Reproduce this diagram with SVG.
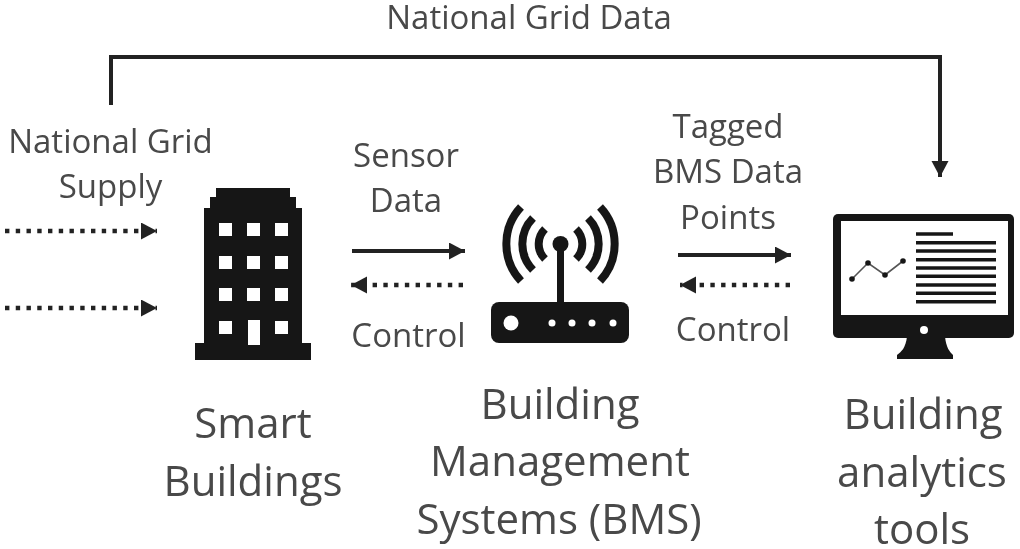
<svg xmlns="http://www.w3.org/2000/svg" width="1020" height="549" viewBox="0 0 1020 549">
<style>
text{font-family:"Open Sans","Noto Sans","Liberation Sans",sans-serif;fill:#484848;text-anchor:middle}
.s{font-size:33px}.b{font-size:42px}
.k{fill:#191919}.w{fill:#fff}
.c{fill:none;stroke:#222;stroke-width:4}
.d{fill:none;stroke:#222;stroke-width:4.400;stroke-dasharray:4.400 6.350}
.a{fill:none;stroke:#191919;stroke-width:8}
.t{stroke:#191919;stroke-width:3.500}
g{filter:url(#soft)}
g g{filter:none}
</style>
<defs>
<filter id="soft" x="-5%" y="-5%" width="110%" height="110%"><feGaussianBlur stdDeviation="0.55"/></filter>
<marker id="h" markerUnits="userSpaceOnUse" markerWidth="18" markerHeight="18" refX="16" refY="8.500" orient="auto"><path d="M0 0L16 8.500L0 17Z" fill="#222"/></marker>
</defs>
<rect width="1020" height="549" fill="#fff"/>
<g id="connectors">
<path class="c" d="M111 105V57H940V177" marker-end="url(#h)"/>
<path class="d" d="M5 231H157" marker-end="url(#h)"/>
<path class="d" d="M5 308H157" marker-end="url(#h)"/>
<path class="c" d="M352 251H465" marker-end="url(#h)"/>
<path class="d" d="M463 285H351" marker-end="url(#h)"/>
<path class="c" d="M678 255H791" marker-end="url(#h)"/>
<path class="d" d="M790 285H680" marker-end="url(#h)"/>
</g>
<g id="labels">
<text class="s" x="529" y="29">National Grid Data</text>
<text class="s" x="110.500" y="153">National Grid</text>
<text class="s" x="110.500" y="198">Supply</text>
<text class="s" x="406" y="167">Sensor</text>
<text class="s" x="406" y="212">Data</text>
<text class="s" x="408.500" y="347">Control</text>
<text class="s" x="728" y="138">Tagged</text>
<text class="s" x="728" y="183">BMS Data</text>
<text class="s" x="728" y="229">Points</text>
<text class="s" x="733" y="341">Control</text>
</g>
<g id="smart-buildings">
<path class="k" d="M216 188H290V197H296V208H302V343H311V360H195V343H204V208H210V197H216Z"/>
<g class="w">
<rect x="219" y="223" width="13" height="13"/><rect x="247" y="223" width="13" height="13"/><rect x="275" y="223" width="13" height="13"/>
<rect x="219" y="256" width="13" height="13"/><rect x="247" y="256" width="13" height="13"/><rect x="275" y="256" width="13" height="13"/>
<rect x="219" y="288" width="13" height="13"/><rect x="247" y="288" width="13" height="13"/><rect x="275" y="288" width="13" height="13"/>
<rect x="219" y="321" width="13" height="13"/><rect x="248" y="320" width="12" height="25"/><rect x="275" y="321" width="13" height="13"/>
</g>
<text class="b" x="253" y="438">Smart</text>
<text class="b" x="253" y="496">Buildings</text>
</g>
<g id="bms">
<rect class="k" x="491" y="302" width="138" height="41" rx="8"/>
<rect class="k" x="557" y="245" width="7" height="60"/>
<circle class="k" cx="560.500" cy="244" r="8"/>
<path class="a" d="M545 229A21 21 0 0 0 545 259M576 229A21 21 0 0 1 576 259M533 218A37 37 0 0 0 533 270M588 218A37 37 0 0 1 588 270M521 207A54 54 0 0 0 521 281M600 207A54 54 0 0 1 600 281"/>
<circle class="w" cx="511" cy="323" r="7.500"/>
<circle class="w" cx="552" cy="323" r="3.500"/><circle class="w" cx="572" cy="323" r="3.500"/><circle class="w" cx="592" cy="323" r="3.500"/><circle class="w" cx="613" cy="323" r="3.500"/>
<text class="b" x="560" y="419">Building</text>
<text class="b" x="560" y="476">Management</text>
<text class="b" x="559" y="534">Systems (BMS)</text>
</g>
<g id="analytics">
<rect class="k" x="833" y="214" width="181" height="124" rx="5"/>
<path class="k" d="M907 336H945C946 348 950 352 953 355V359H897V355C901 352 906 348 907 336Z"/>
<rect class="w" x="841" y="221" width="167" height="94"/>
<circle class="w" cx="924" cy="330" r="4"/>
<path d="M852 279L868 263L885 275L903 261" fill="none" stroke="#555" stroke-width="1.600"/>
<g class="k"><circle cx="852" cy="279" r="2.800"/><circle cx="868" cy="263" r="2.800"/><circle cx="885" cy="275" r="2.800"/><circle cx="903" cy="261" r="2.800"/></g>
<path class="t" d="M916 234H953M916 242.700H996M916 251H996M916 259.700H996M916 268H996M916 276.300H996M916 285H996M916 293.300H996M916 301.700H996"/>
<text class="b" x="923" y="429">Building</text>
<text class="b" x="922" y="487">analytics</text>
<text class="b" x="922" y="544">tools</text>
</g>
</svg>
